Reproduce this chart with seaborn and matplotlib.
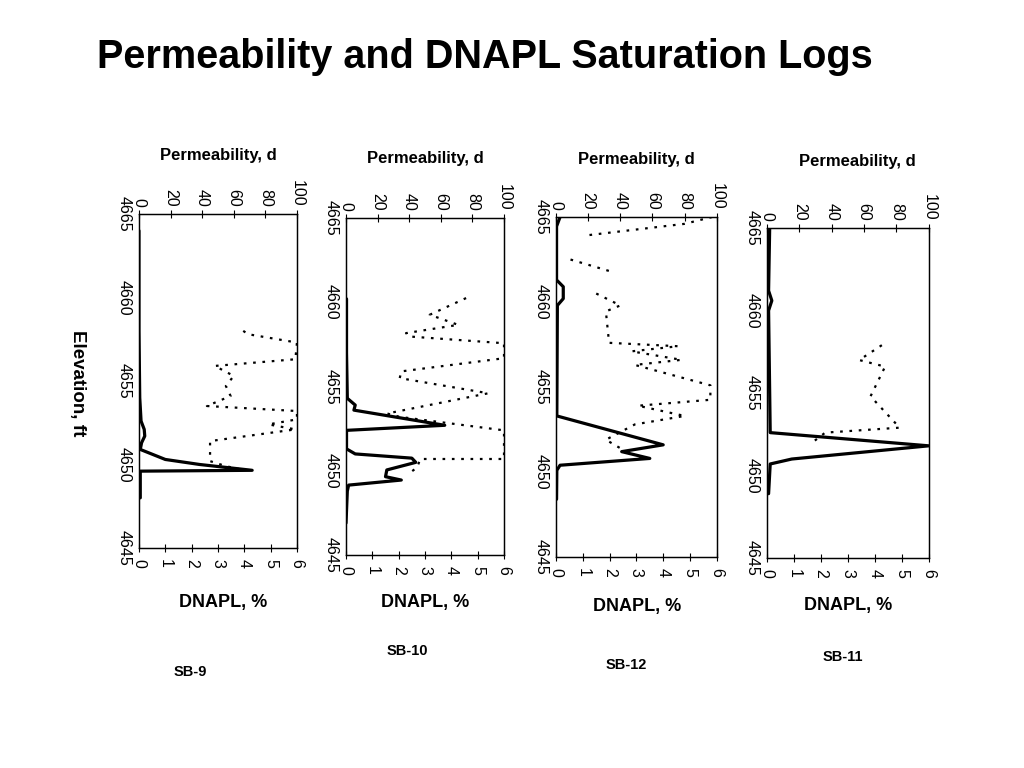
import seaborn as sns
import numpy as np
import pandas as pd
import matplotlib
matplotlib.use("Agg")
import matplotlib.pyplot as plt
from matplotlib import font_manager

wells = ["SB-9", "SB-10", "SB-12", "SB-11"]

sb9_dnapl_elev = [4664.0, 4658.0, 4654.0, 4652.6, 4652.1, 4651.7, 4651.3, 4650.9, 4650.3, 4650.0, 4649.65, 4649.6, 4649.0, 4648.0]
sb9_dnapl = [0.0, 0.0, 0.03, 0.08, 0.2, 0.22, 0.1, 0.05, 1.0, 2.3, 4.3, 0.05, 0.05, 0.05]
sb9_perm_elev = [4658.0, 4657.8, 4657.3, 4656.3, 4655.9, 4655.7, 4655.3, 4654.7, 4654.1, 4653.5, 4653.2, 4652.7, 4652.4, 4652.1, 4651.4, 4650.2, 4649.9, 4649.65]
sb9_perm = [66, 69, 100, 99, 48, 52, 60, 55, 58, 43, 100, 100, 82, 99, 45, 45, 55, 67]
sb9_perm_seg = [0] * 18

sb10_dnapl_elev = [4660.2, 4657.0, 4654.3, 4653.9, 4653.6, 4652.7, 4652.4, 4651.3, 4651.0, 4650.75, 4650.5, 4650.05, 4649.65, 4649.45, 4649.15, 4648.8, 4646.9]
sb10_dnapl = [0.02, 0.02, 0.05, 0.35, 0.3, 3.75, 0.02, 0.02, 0.35, 2.5, 2.65, 1.55, 1.5, 2.1, 0.1, 0.05, 0.0]
sb10_perm_elev = [4660.25, 4659.26, 4658.66, 4658.17, 4657.97, 4657.57, 4656.68, 4655.9, 4655.5, 4654.6, 4653.4, 4653.2, 4652.4, 4650.7, 4650.7, 4650.2, 4649.85]
sb10_perm = [76, 53, 71, 38, 40, 100, 100, 35, 34, 90, 26, 34, 100, 100, 47, 45, 40]
sb10_perm_seg = [0] * 17

sb12_dnapl_elev = [4665.0, 4664.45, 4661.3, 4660.9, 4660.2, 4659.8, 4653.3, 4651.6, 4651.2, 4650.8, 4650.4, 4650.1, 4648.4]
sb12_dnapl = [0.15, 0.02, 0.02, 0.27, 0.27, 0.05, 0.03, 4.0, 2.45, 3.5, 0.15, 0.03, 0.02]
sb12_perm_elev = [4665.0, 4664.6, 4663.9,
                  4662.5, 4661.8,
                  4660.5, 4659.8, 4659.45, 4657.6, 4657.4, 4657.1, 4656.6, 4656.3, 4655.1, 4654.25, 4653.9, 4653.3, 4652.8, 4651.9, 4651.4]
sb12_perm = [97, 80, 17,
             9, 34,
             25, 40, 31, 33, 76, 47, 78, 49, 96, 96, 51, 80, 49, 31, 40]
sb12_perm_seg = [0, 0, 0, 1, 1] + [2] * 15

sb11_dnapl_elev = [4665.0, 4661.2, 4660.6, 4660.0, 4652.6, 4651.8, 4651.0, 4650.7, 4648.9]
sb11_dnapl = [0.1, 0.06, 0.18, 0.06, 0.12, 6.0, 0.92, 0.12, 0.06]
sb11_perm_elev = [4657.9, 4657.0, 4656.6, 4654.8, 4652.9, 4652.6, 4652.0]
sb11_perm = [71, 57, 73, 64, 82, 36, 28]
sb11_perm_seg = [0] * 7

dnapl_data = [(sb9_dnapl_elev, sb9_dnapl), (sb10_dnapl_elev, sb10_dnapl),
              (sb12_dnapl_elev, sb12_dnapl), (sb11_dnapl_elev, sb11_dnapl)]
perm_data = [(sb9_perm_elev, sb9_perm, sb9_perm_seg), (sb10_perm_elev, sb10_perm, sb10_perm_seg),
             (sb12_perm_elev, sb12_perm, sb12_perm_seg), (sb11_perm_elev, sb11_perm, sb11_perm_seg)]

elev_ticks = [4645, 4650, 4655, 4660, 4665]
dnapl_ticks = [0, 1, 2, 3, 4, 5, 6]
perm_ticks = [0, 20, 40, 60, 80, 100]

# ---- layout (figure fractions) ----
axes_rects = [[0.1357, 0.2865, 0.1543, 0.4349],
              [0.3379, 0.2773, 0.1543, 0.4388],
              [0.5430, 0.2747, 0.1570, 0.4427],
              [0.7490, 0.2734, 0.1580, 0.4297]]
perm_label_pos = [(0.213, 0.798), (0.415, 0.794), (0.621, 0.792), (0.837, 0.790)]
dnapl_label_pos = [(0.218, 0.215), (0.415, 0.215), (0.622, 0.210), (0.828, 0.211)]
well_label_pos = [(0.1855, 0.125), (0.398, 0.152), (0.612, 0.134), (0.823, 0.145)]

sns.set_style("white")
plt.rcParams["font.family"] = ["Liberation Sans", "DejaVu Sans"]
plt.rcParams["text.color"] = "black"

# condensed face for title / well names, if the narrow Liberation face exists
try:
    font_manager.findfont(font_manager.FontProperties(family="Liberation Sans Narrow", weight="bold"),
                          fallback_to_default=False)
    narrow = ["Liberation Sans Narrow", "Liberation Sans"]
    title_size, well_size = 33, 12
except Exception:
    narrow = ["Liberation Sans", "DejaVu Sans"]
    title_size, well_size = 28.5, 10.5

fig = plt.figure(figsize=(10.24, 7.68), dpi=100)

for i, well in enumerate(wells):
    ax = fig.add_axes(axes_rects[i])
    d_elev, d_val = dnapl_data[i]
    p_elev, p_val, p_seg = perm_data[i]
    dn = pd.DataFrame({"elev": d_elev, "dnapl": d_val})
    pm = pd.DataFrame({"elev": p_elev, "perm": p_val, "seg": p_seg})

    sns.lineplot(data=dn, x="dnapl", y="elev", sort=False, estimator=None,
                 color="black", linewidth=2.3, ax=ax)
    ax.set_xlim(0, 6)
    ax.set_ylim(4645, 4665)
    ax.set_xticks(dnapl_ticks)
    ax.set_yticks(elev_ticks)
    ax.set_xlabel("")
    ax.set_ylabel("")

    ax2 = ax.twiny()
    sns.lineplot(data=pm, x="perm", y="elev", units="seg", sort=False, estimator=None,
                 color="black", linewidth=1.6, linestyle=(0, (1.2, 3.0)), ax=ax2)
    ax2.set_xlim(0, 100)
    ax2.set_xticks(perm_ticks)
    ax2.set_xlabel("")
    ax2.set_ylabel("")

    for a in (ax, ax2):
        for s in a.spines.values():
            s.set_linewidth(0.9)
            s.set_color("black")
        a.tick_params(direction="inout", length=6, width=0.8, labelsize=11.5,
                      labelrotation=-90, colors="black", labelcolor="black", pad=2)
    ax.tick_params(axis="x", pad=5)
    for lab in ax.get_yticklabels():
        lab.set_va("center")

    fig.text(*perm_label_pos[i], "Permeability, d", ha="center", va="center",
             fontsize=12, fontweight="bold")
    fig.text(*dnapl_label_pos[i], "DNAPL, %", ha="center", va="center",
             fontsize=13, fontweight="bold")
    fig.text(*well_label_pos[i], well, ha="center", va="center",
             fontsize=well_size, fontweight="bold", family=narrow)

fig.text(0.076, 0.501, "Elevation, ft", rotation=-90, ha="center", va="center",
         fontsize=13.5, fontweight="bold")
fig.text(0.095, 0.926, "Permeability and DNAPL Saturation Logs", ha="left", va="center",
         fontsize=title_size, fontweight="bold", family=narrow)

fig.savefig("out.png", dpi=100)
